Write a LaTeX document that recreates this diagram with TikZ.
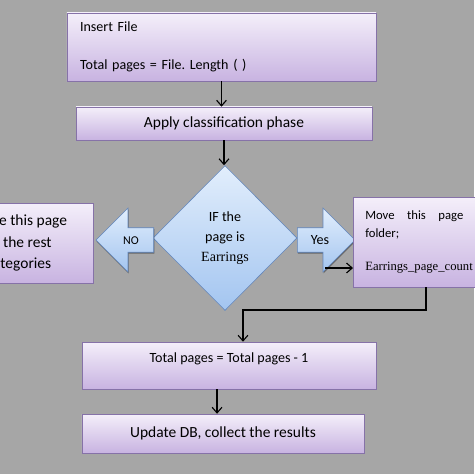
\documentclass[tikz,border=0pt]{standalone}
\usepackage{fontspec}
\setmainfont{Carlito}
\newfontfamily\timesfont{Liberation Serif}
\usetikzlibrary{shapes.geometric, shapes.arrows, shadows, arrows.meta}
\definecolor{bggray}{HTML}{A6A6A6}
\definecolor{boxtop}{HTML}{F4EFFA}
\definecolor{boxbot}{HTML}{C8B3E1}
\definecolor{boxline}{HTML}{8672A8}
\definecolor{diatop}{HTML}{E2EEFC}
\definecolor{diabot}{HTML}{A3C5F0}
\definecolor{dialine}{HTML}{6286BC}
\frenchspacing

\begin{document}
\begin{tikzpicture}[x=0.7113pt, y=-0.7113pt, font=\fontsize{10}{12}\selectfont,
  boxshadow/.style={drop shadow={shadow xshift=0.4pt, shadow yshift=-1pt, fill=black!80, opacity=0.55}},
  flowbox/.style={draw=boxline, top color=boxtop, bottom color=boxbot, inner sep=0pt, boxshadow},
  decision/.style={diamond, aspect=1, draw=dialine, top color=diatop, bottom color=diabot, inner sep=0pt},
  choice/.style={single arrow, draw=dialine, top color=diatop, bottom color=diabot, single arrow head extend=14pt,
    minimum height=41pt, text height=6pt, text depth=0pt, inner ysep=5.5pt, inner xsep=2pt, boxshadow},
  flow/.style={-{Straight Barb[length=4pt, width=7pt]}, line width=0.8pt}]
  \fill[bggray] (0,0) rectangle (474,474);
  \useasboundingbox (0,0) rectangle (474,474);

  \node[flowbox, minimum width=219.8pt, minimum height=48.4pt, text width=201.3pt, align=left] (insert) at (221.5,47)
    {Insert File\\[15pt]Total pages = File. Length ( )};
  \node[flowbox, minimum width=210.5pt, minimum height=23.5pt, font=\fontsize{11}{13}\selectfont] (classify) at (224,123.5)
    {Apply classification phase};
  \node[decision, minimum width=102.4pt, minimum height=103.1pt, align=center, font=\fontsize{10}{14}\selectfont] (isear) at (225,238)
    {IF the\\page is\\{\timesfont Earrings}};
  \node[choice, shape border rotate=180, anchor=tail, font=\fontsize{8.5}{10}\selectfont] (no) at (154,240) {NO};
  \node[choice, anchor=tail] (yes) at (297,240) {Yes};
  \node[flowbox, minimum width=105.3pt, minimum height=56.9pt, align=center, font=\fontsize{11}{15}\selectfont] (other) at (19,243)
    {Move this page\\to the rest\\categories};
  \node[flowbox, minimum height=64pt, text width=86.4pt, inner xsep=8.5pt, align=left, font=\fontsize{9}{12.8}\selectfont] (earrings) at (426,242)
    {Move\hfill this\hfill page\hfill to\\folder;\\[11pt]{\timesfont Earrings\_page\_count}};
  \node[flowbox, minimum width=209.1pt, minimum height=33.4pt, text height=7pt, text depth=11pt] (decrement) at (229,365.5)
    {Total pages = Total pages - 1};
  \node[flowbox, minimum width=200.6pt, minimum height=27.7pt, font=\fontsize{11}{13}\selectfont] (update) at (223,433.5)
    {Update DB, collect the results};

  \draw[flow] (insert.south) -- (insert.south |- classify.north);
  \draw[flow] (classify.south) -- (classify.south |- isear.north);
  \coordinate (stub) at (325,268);
  \draw[flow] (stub) -- (stub -| earrings.west);
  \coordinate (join) at (243,310);
  \draw[flow] (earrings.south) -- (earrings.south |- join) -- (join) -- (join |- decrement.north);
  \draw[flow] ([xshift=-8.5pt]decrement.south) -- ([xshift=-8.5pt]decrement.south |- update.north);
\end{tikzpicture}
\end{document}
